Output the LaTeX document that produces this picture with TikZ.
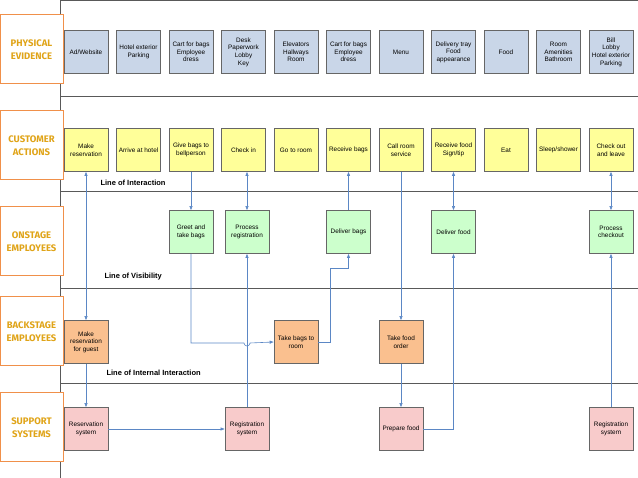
\documentclass[tikz,border=0pt]{standalone}
\usepackage{fontspec}
\setmainfont{Liberation Sans}
\newfontfamily\lab{Fira Sans}
\usetikzlibrary{arrows.meta}
\definecolor{lblue}{HTML}{C9D6E8}
\definecolor{lyel}{HTML}{FFFF99}
\definecolor{lgreen}{HTML}{CCFFCC}
\definecolor{lorange}{HTML}{FAC08F}
\definecolor{lpink}{HTML}{F8CBCB}
\definecolor{arr}{HTML}{5B87C5}
\definecolor{ttl}{HTML}{E0A418}
\definecolor{obord}{HTML}{F0904A}
\begin{document}
\begin{tikzpicture}[x=1pt,y=-1pt,
 box/.style={draw=gray!80!black,line width=0.7pt,minimum width=44pt,minimum height=43pt,inner sep=1pt,align=center,font=\fontsize{6.4}{7.6}\selectfont},
 pe/.style={box,fill=lblue}, ca/.style={box,fill=lyel}, on/.style={box,fill=lgreen},
 bs/.style={box,fill=lorange}, ss/.style={box,fill=lpink},
 side/.style={draw=obord,line width=1pt,fill=white,minimum width=63pt,minimum height=69pt,align=center,text=ttl,font=\lab\bfseries\fontsize{9.5}{13}\selectfont},
 sep/.style={draw=gray!70!black,line width=0.8pt},
 ll/.style={font=\bfseries\fontsize{7.5}{8}\selectfont,anchor=west},
 a/.style={draw=arr,line width=0.6pt,-{Triangle[length=4pt,width=3pt]}},
 aa/.style={draw=arr,line width=0.6pt,{Triangle[length=4pt,width=3pt]}-{Triangle[length=4pt,width=3pt]}}]
\useasboundingbox (0,0) rectangle (638,478);
\draw[sep] (60,0) -- (638,0);
\draw[sep] (60,96) -- (638,96);
\draw[sep] (60,191) -- (638,191);
\draw[sep] (60,288) -- (638,288);
\draw[sep] (60,383) -- (638,383);
\draw[sep] (60,0) -- (60,478);
\node[ll] (li) at (97,183) {Line of Interaction};
\node[ll] (lv) at (101,277) {Line of Visibility};
\node[ll] (lii) at (103,373) {Line of Internal Interaction};
\node[side] (s1) at (31.5,49.5) {PHYSICAL\\EVIDENCE};
\node[side] (s2) at (31.5,145.5) {CUSTOMER\\ACTIONS};
\node[side] (s3) at (31.5,241.5) {ONSTAGE\\EMPLOYEES};
\node[side] (s4) at (31.5,331.5) {BACKSTAGE\\EMPLOYEES};
\node[side] (s5) at (31.5,427.5) {SUPPORT\\SYSTEMS};
% physical evidence
\node[pe] (p1) at (86,52) {Ad/Website};
\node[pe] (p2) at (138.5,52) {Hotel exterior\\Parking};
\node[pe] (p3) at (191,52) {Cart for bags\\Employee\\dress};
\node[pe] (p4) at (243.5,52) {Desk\\Paperwork\\Lobby\\Key};
\node[pe] (p5) at (296,52) {Elevators\\Hallways\\Room};
\node[pe] (p6) at (348.5,52) {Cart for bags\\Employee\\dress};
\node[pe] (p7) at (401,52) {Menu};
\node[pe] (p8) at (453.5,52) {Delivery tray\\Food\\appearance};
\node[pe] (p9) at (506,52) {Food};
\node[pe] (p10) at (558.5,52) {Room\\Amenities\\Bathroom};
\node[pe] (p11) at (611,52) {Bill\\Lobby\\Hotel exterior\\Parking};
% customer actions
\node[ca] (c1) at (86,150) {Make\\reservation};
\node[ca] (c2) at (138.5,150) {Arrive at hotel};
\node[ca] (c3) at (191,150) {Give bags to\\bellperson};
\node[ca] (c4) at (243.5,150) {Check in};
\node[ca] (c5) at (296,150) {Go to room};
\node[ca] (c6) at (348.5,150) {Receive bags};
\node[ca] (c7) at (401,150) {Call room\\service};
\node[ca] (c8) at (453.5,150) {Receive food\\Sign/tip};
\node[ca] (c9) at (506,150) {Eat};
\node[ca] (c10) at (558.5,150) {Sleep/shower};
\node[ca] (c11) at (611,150) {Check out\\and leave};
% onstage
\node[on] (o3) at (191,232) {Greet and\\take bags};
\node[on] (o4) at (247,232) {Process\\registration};
\node[on] (o6) at (348.5,232) {Deliver bags};
\node[on] (o8) at (453.5,232) {Deliver food};
\node[on] (o11) at (611,232) {Process\\checkout};
% backstage
\node[bs] (b1) at (86,342) {Make\\reservation\\for guest};
\node[bs] (b5) at (296,342) {Take bags to\\room};
\node[bs] (b7) at (401,342) {Take food\\order};
% support
\node[ss] (r1) at (86,429) {Reservation\\system};
\node[ss] (r4) at (247,429) {Registration\\system};
\node[ss] (r7) at (401,429) {Prepare food};
\node[ss] (r11) at (611,429) {Registration\\system};
% connectors
\draw[aa] (c1.south) -- (b1.north);
\draw[a] (b1.south) -- (r1.north);
\draw[a] (r1.east) -- (r4.west);
\draw[a] (c3.south) -- (o3.north);
\draw[aa] (c4.south -| o4.north) -- (o4.north);
\draw[a] (r4.north) -- (o4.south);
\draw[a] (o3.south) -- (191,343) -- (244,343) arc[start angle=180,end angle=0,radius=3] -- (b5.west);
\draw[a] (b5.east) -- (330,342) -- (330,268) -- (348.5,268) -- (o6.south);
\draw[a] (o6.north) -- (c6.south);
\draw[a] (c7.south) -- (b7.north);
\draw[a] (b7.south) -- (r7.north);
\draw[a] (r7.east) -- (453.5,429) -- (o8.south);
\draw[aa] (c8.south) -- (o8.north);
\draw[aa] (c11.south) -- (o11.north);
\draw[a] (r11.north) -- (o11.south);
\end{tikzpicture}
\end{document}
